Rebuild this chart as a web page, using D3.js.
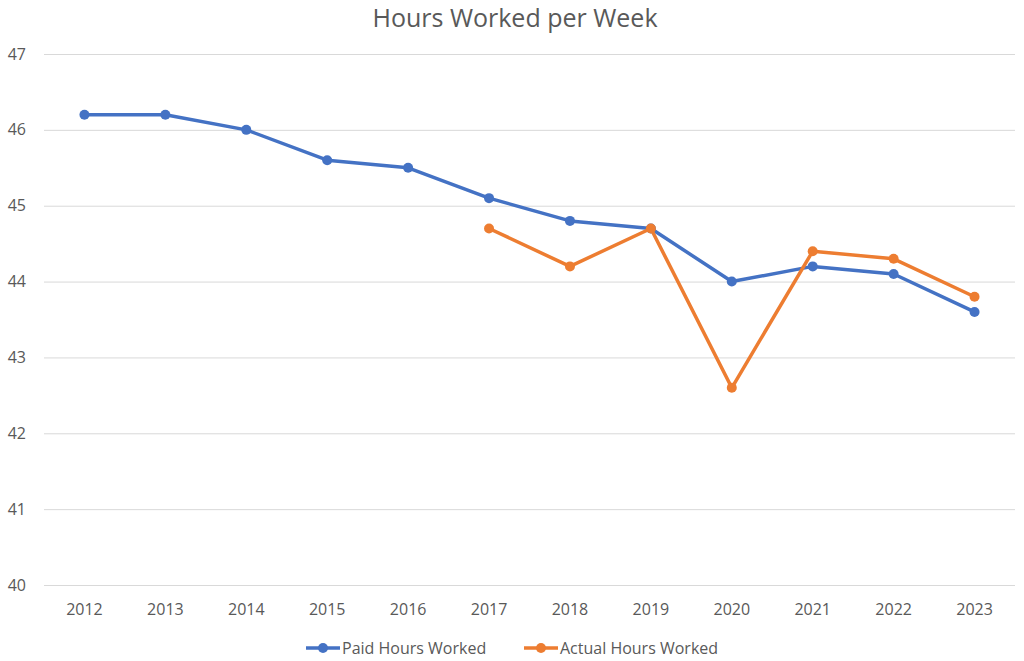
<!DOCTYPE html>
<html>
<head>
<meta charset="utf-8">
<script src="https://cdn.jsdelivr.net/npm/d3@7"></script>
<style>
  body { margin: 0; background: #fff; }
  svg { display: block; font-family: "Open Sans", "Noto Sans", sans-serif; }
</style>
</head>
<body>
<div id="chart"></div>
<script>
const width = 1024;
const height = 661;

// Data
const years = ['2012', '2013', '2014', '2015', '2016', '2017', '2018', '2019', '2020', '2021', '2022', '2023'];
const paidHours = [46.2, 46.2, 46.0, 45.6, 45.5, 45.1, 44.8, 44.7, 44.0, 44.2, 44.1, 43.6];
const actualHours = [null, null, null, null, null, 44.7, 44.2, 44.7, 42.6, 44.4, 44.3, 43.8];
const yTicks = [40, 41, 42, 43, 44, 45, 46, 47];
const seriesNames = ['Paid Hours Worked', 'Actual Hours Worked'];
const seriesColors = ['#4472C4', '#ED7D31'];

const plotLeft = 44, plotRight = 1015, plotTop = 54, plotBottom = 585;
const font = '"Open Sans", "Noto Sans", sans-serif';

const svg = d3.select('#chart')
  .append('svg')
  .attr('width', width)
  .attr('height', height);

// Title
svg.append('text')
  .attr('x', 515)
  .attr('y', 27)
  .attr('text-anchor', 'middle')
  .attr('font-size', 25)
  .attr('fill', '#595959')
  .text('Hours Worked per Week');

// Scales
const xScale = d3.scaleBand()
  .domain(years)
  .range([plotLeft, plotRight]);
const yScale = d3.scaleLinear()
  .domain([40, 47])
  .range([plotBottom, plotTop]);

// Gridlines + y labels
const yAxis = d3.axisLeft(yScale)
  .tickValues(yTicks)
  .tickFormat(d3.format('d'))
  .tickSize(-(plotRight - plotLeft))
  .tickPadding(18);
const gy = svg.append('g')
  .attr('transform', `translate(${plotLeft},0)`)
  .call(yAxis);
gy.select('.domain').remove();
gy.selectAll('.tick line').attr('stroke', '#d9d9d9').attr('stroke-width', 1);
gy.selectAll('.tick text')
  .attr('fill', '#595959')
  .attr('font-size', 16)
  .attr('font-family', font);

// x labels
const xAxis = d3.axisBottom(xScale).tickSize(0).tickPadding(19);
const gx = svg.append('g')
  .attr('transform', `translate(0,${plotBottom})`)
  .call(xAxis);
gx.select('.domain').remove();
gx.selectAll('.tick text')
  .attr('fill', '#595959')
  .attr('font-size', 16)
  .attr('font-family', font);

// Lines
const cx = i => xScale(years[i]) + xScale.bandwidth() / 2;
const line = d3.line()
  .defined(d => d.v !== null)
  .x(d => cx(d.i))
  .y(d => yScale(d.v));

[paidHours, actualHours].forEach((series, s) => {
  const pts = series.map((v, i) => ({ v: v, i: i }));
  svg.append('path')
    .datum(pts)
    .attr('fill', 'none')
    .attr('stroke', seriesColors[s])
    .attr('stroke-width', 3.5)
    .attr('stroke-linejoin', 'round')
    .attr('d', line);
  svg.selectAll(null)
    .data(pts.filter(d => d.v !== null))
    .enter()
    .append('circle')
    .attr('cx', d => cx(d.i))
    .attr('cy', d => yScale(d.v))
    .attr('r', 5)
    .attr('fill', seriesColors[s]);
});

// Legend
const legendX = [306, 524];
seriesNames.forEach((name, s) => {
  const g = svg.append('g').attr('transform', `translate(${legendX[s]},648)`);
  g.append('line')
    .attr('x1', 0).attr('x2', 34)
    .attr('y1', 0).attr('y2', 0)
    .attr('stroke', seriesColors[s])
    .attr('stroke-width', 3.5);
  g.append('circle')
    .attr('cx', 17).attr('cy', 0).attr('r', 5)
    .attr('fill', seriesColors[s]);
  g.append('text')
    .attr('x', 36)
    .attr('y', 6)
    .attr('font-size', 16)
    .attr('fill', '#595959')
    .text(name);
});
</script>
</body>
</html>
